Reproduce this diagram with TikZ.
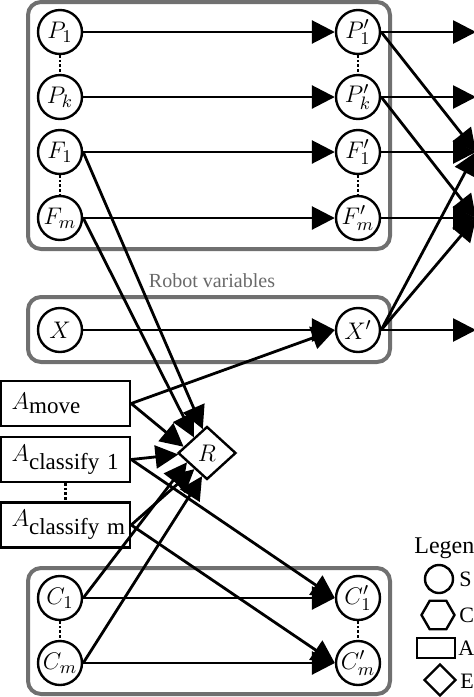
\documentclass[tikz,border=0pt]{standalone}
\usepackage{fontspec}
\setmainfont{Liberation Serif}
\usetikzlibrary{
    arrows.meta,
    shapes.geometric
}
\definecolor{ink}{RGB}{0,0,0}
\definecolor{groupgray}{RGB}{112,112,112}
\definecolor{labelgray}{RGB}{105,105,105}
\tikzset{
    line join=round,
    statevar/.style={
        circle,
        draw=ink,
        line width=1.2pt,
        minimum size=22pt,
        inner sep=0pt,
        font=\fontsize{12.5}{14}\selectfont
    },
    actionbox/.style={
        rectangle,
        draw=ink,
        line width=1.2pt,
        minimum width=64.5pt,
        minimum height=22.5pt,
        inner xsep=5pt,
        text width=54pt,
        align=left,
        font=\fontsize{11.5}{13}\selectfont
    },
    rewardnode/.style={
        diamond,
        draw=ink,
        line width=1.2pt,
        minimum width=29pt,
        minimum height=26.5pt,
        inner sep=0pt,
        font=\fontsize{11.5}{13}\selectfont
    },
    groupbox/.style={
        draw=groupgray,
        line width=2pt,
        rounded corners=6.5pt
    },
    dep/.style={
        -{Triangle[length=11.5pt, width=11.5pt]},
        draw=ink,
        line width=1.4pt
    },
    gap/.style={
        draw=ink,
        line width=1.3pt,
        densely dotted
    },
    grouplabel/.style={
        font=\fontsize{10}{12}\selectfont,
        text=labelgray
    },
    legendtext/.style={
        font=\fontsize{11}{13}\selectfont,
        inner sep=0pt
    },
    legendmark/.style={
        draw=ink,
        line width=1.2pt,
        inner sep=0pt
    }
}

\begin{document}
\begin{tikzpicture}[x=0.5pt, y=-0.5pt]

\useasboundingbox (0,0) rectangle (474,697);
\clip (0,0) rectangle (474,697);

% Group boxes
\draw[groupbox] (28,2) rectangle (390,249);
\draw[groupbox] (28,297) rectangle (390,362);
\draw[groupbox] (28,568) rectangle (390,694);
\node[grouplabel] (robotlabel) at (212,281) {Robot variables};

% Current slice
\node[statevar] (p1) at (60,32) {$P_1$};
\node[statevar] (pk) at (60,97) {$P_k$};
\node[statevar] (f1) at (60,152) {$F_1$};
\node[statevar] (fm) at (60,218) {$F_m$};
\node[statevar] (x) at (60,330) {$X$};
\node[statevar] (c1) at (60,598) {$C_1$};
\node[statevar] (cm) at (60,663) {$C_m$};

% Next slice
\node[statevar] (p1n) at (358,32) {$P'_1$};
\node[statevar] (pkn) at (358,97) {$P'_k$};
\node[statevar] (f1n) at (358,152) {$F'_1$};
\node[statevar] (fmn) at (358,218) {$F'_m$};
\node[statevar] (xn) at (358,330) {$X'$};
\node[statevar] (c1n) at (358,598) {$C'_1$};
\node[statevar] (cmn) at (358,663) {$C'_m$};

% Actions and reward
\node[actionbox] (amove) at (65.5,403.5) {$A_{\mbox{move}}$};
\node[actionbox] (acl1) at (65.5,459.5) {$A_{\mbox{classify 1}}$};
\node[actionbox] (aclm) at (65.5,525) {$A_{\mbox{classify m}}$};
\node[rewardnode] (reward) at (207,453) {$R$};

% Observations (outside the frame)
\coordinate (obsp1) at (476,32);
\coordinate (obspk) at (476,97);
\coordinate (obsf1) at (476,152);
\coordinate (obsfm) at (476,218);
\coordinate (obsx) at (476,330);

% Dotted gaps
\draw[gap] (p1.south) -- (pk.north);
\draw[gap] (f1.south) -- (fm.north);
\draw[gap] (p1n.south) -- (pkn.north);
\draw[gap] (f1n.south) -- (fmn.north);
\draw[gap] (c1.south) -- (cm.north);
\draw[gap] (c1n.south) -- (cmn.north);
\draw[gap] (acl1.south) -- (aclm.north);

% Transitions
\draw[dep] (p1) -- (p1n);
\draw[dep] (pk) -- (pkn);
\draw[dep] (f1) -- (f1n);
\draw[dep] (fm) -- (fmn);
\draw[dep] (x) -- (xn);
\draw[dep] (c1) -- (c1n);
\draw[dep] (cm) -- (cmn);
\draw[dep] (amove.east) -- (xn.west);
\draw[dep] (acl1.east) -- (c1n.west);
\draw[dep] (aclm.east) -- (cmn.west);

% Reward inputs
\draw[dep] (f1.east) -- (reward.100);
\draw[dep] (fm.east) -- (reward.130);
\draw[dep] (amove.east) -- (reward.165);
\draw[dep] (acl1.east) -- (reward.183);
\draw[dep] (c1.east) -- (reward.205);
\draw[dep] (aclm.east) -- (reward.232);
\draw[dep] (cm.east) -- (reward.258);

% Observation inputs
\draw[dep] (p1n.east) -- (obsp1);
\draw[dep] (pkn.east) -- (obspk);
\draw[dep] (f1n.east) -- (obsf1);
\draw[dep] (fmn.east) -- (obsfm);
\draw[dep] (xn.east) -- (obsx);
\draw[dep] (p1n.east) -- (obsf1);
\draw[dep] (pkn.east) -- (obsfm);
\draw[dep] (xn.east) -- (obsf1);
\draw[dep] (xn.east) -- (obsfm);

% Legend
\node[legendtext, font=\fontsize{12}{14}\selectfont, anchor=base west] (legtitle) at (414,553) {Legend};
\node[legendmark, circle, minimum size=14pt] (legstate) at (439,579) {};
\node[legendmark, regular polygon, regular polygon sides=6, minimum size=16.5pt] (legobs) at (438,615) {};
\node[legendmark, rectangle, minimum width=19pt, minimum height=10pt] (legaction) at (436,648) {};
\node[legendmark, diamond, minimum size=16pt] (legreward) at (440,680) {};
\node[legendtext, anchor=west] (legstatetext) at (459,579) {S};
\node[legendtext, anchor=west] (legobstext) at (459,615) {C};
\node[legendtext, anchor=west] (legactiontext) at (458,648) {A};
\node[legendtext, anchor=west] (legrewardtext) at (460,681) {E};

\end{tikzpicture}
\end{document}
